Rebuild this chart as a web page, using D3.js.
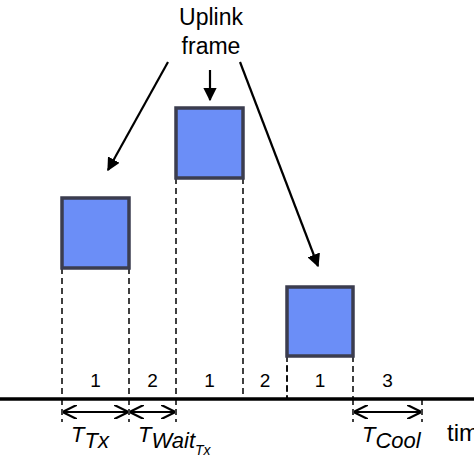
<!DOCTYPE html><html><head><script src="https://cdn.jsdelivr.net/npm/d3@7"></script>
<style>body{margin:0;background:#fff}</style></head><body><svg id="c" width="474" height="474"></svg>
<script>
const boundaries=[0,67,114,181,225,291,360];
const segLabels=["1","2","1","2","1","3"];
const frames=[{s:0,e:67,top:198,bot:268},{s:114,e:181,top:108,bot:178},{s:225,e:291,top:287,bot:356}];
const spans=[{s:0,e:67,main:"T",sub:"Tx",sub2:""},{s:67,e:114,main:"T",sub:"Wait",sub2:"Tx"},{s:291,e:360,main:"T",sub:"Cool",sub2:""}];
const x=d3.scaleLinear().domain([0,360]).range([62,422]);
const svg=d3.select("#c");
const defs=svg.append("defs");
defs.append("marker").attr("id","ah").attr("viewBox","0 0 10 10").attr("refX",9).attr("refY",5).attr("markerWidth",8).attr("markerHeight",8).attr("orient","auto-start-reverse")
 .append("path").attr("d","M0,0L10,5L0,10").attr("fill","none").attr("stroke","#000").attr("stroke-width",1.5);
defs.append("marker").attr("id","big").attr("viewBox","0 0 10 10").attr("refX",9).attr("refY",5).attr("markerWidth",6).attr("markerHeight",6).attr("orient","auto")
 .append("path").attr("d","M0,0L10,5L0,10Z").attr("fill","#000");
const axisY=399;
const dash=(xx,y1,y2)=>svg.append("line").attr("x1",xx).attr("x2",xx).attr("y1",y1).attr("y2",y2).attr("stroke","#000").attr("stroke-width",1.5).attr("stroke-dasharray","6,4");
frames.forEach(f=>{dash(x(f.s),f.bot,axisY);dash(x(f.e),f.bot,axisY);});
[0,67,114,291,360].forEach(b=>dash(x(b),axisY,422));
dash(x(225),365,axisY);
svg.selectAll("rect.f").data(frames).enter().append("rect").attr("x",d=>x(d.s)).attr("y",d=>d.top).attr("width",d=>x(d.e)-x(d.s)).attr("height",d=>d.bot-d.top)
 .attr("fill","#6b8ef7").attr("stroke","#3b3d4f").attr("stroke-width",3.5);
svg.append("line").attr("x1",0).attr("x2",474).attr("y1",axisY).attr("y2",axisY).attr("stroke","#000").attr("stroke-width",3.5);
svg.append("text").attr("x",447).attr("y",441).attr("font-family","Liberation Sans, Arial").attr("font-size",24).text("time");
segLabels.forEach((l,i)=>svg.append("text").attr("x",x((boundaries[i]+boundaries[i+1])/2)).attr("y",387).attr("text-anchor","middle").attr("font-family","Liberation Sans, Arial").attr("font-size",19).text(l));
spans.forEach(s=>{
 svg.append("line").attr("x1",x(s.s)+2).attr("x2",x(s.e)-2).attr("y1",412).attr("y2",412).attr("stroke","#000").attr("stroke-width",1.8).attr("marker-start","url(#ah)").attr("marker-end","url(#ah)");
 const t=svg.append("text").attr("x",x(s.s)+9).attr("y",442).attr("font-family","Liberation Sans, Arial").attr("font-style","italic").attr("font-size",22);
 t.append("tspan").text(s.main);
 t.append("tspan").attr("dy",6).attr("font-size",22).text(s.sub);
 if(s.sub2) t.append("tspan").attr("dy",7).attr("font-size",14).text(s.sub2);
});
const tt=svg.append("text").attr("text-anchor","middle").attr("font-family","Liberation Sans, Arial").attr("font-size",23);
tt.append("tspan").attr("x",211).attr("y",25).text("Uplink");
tt.append("tspan").attr("x",211).attr("y",54).text("frame");
const arrows=[[168,62,108,170],[210,70,210,100],[240,62,318,266]];
arrows.forEach(a=>svg.append("line").attr("x1",a[0]).attr("y1",a[1]).attr("x2",a[2]).attr("y2",a[3]).attr("stroke","#000").attr("stroke-width",2.2).attr("marker-end","url(#big)"));
</script></body></html>
